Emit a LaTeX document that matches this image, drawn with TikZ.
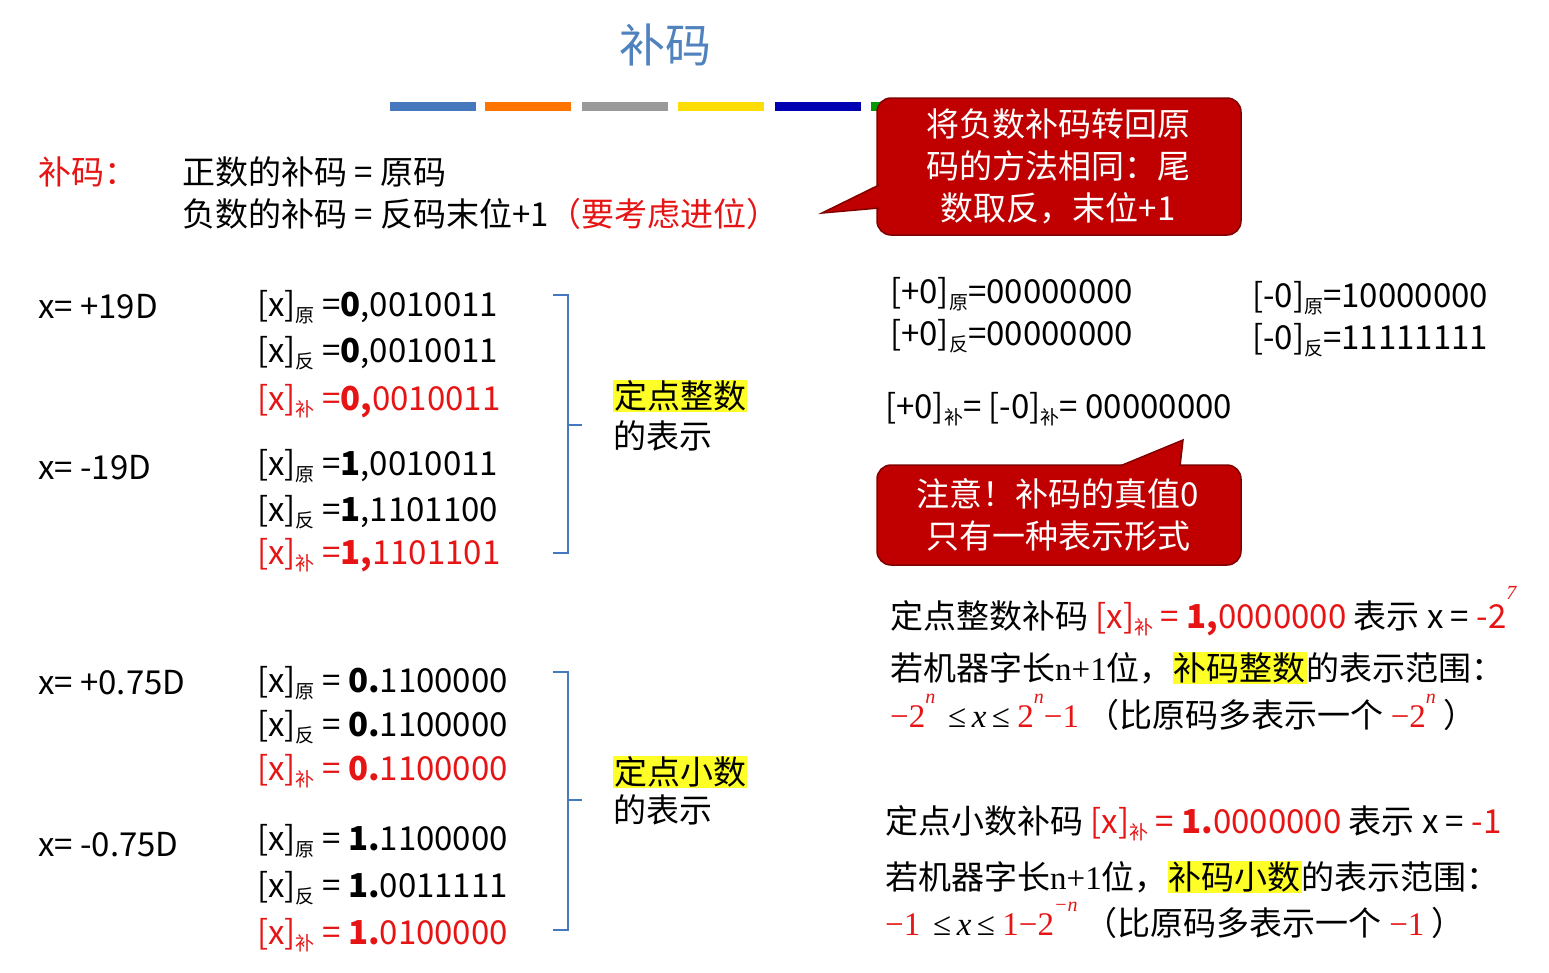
\documentclass[tikz,border=0pt]{standalone}
\usepackage{fontspec}
\setmainfont{Noto Sans CJK SC}
\newfontfamily\ser{Liberation Serif}
\usetikzlibrary{calc}
\definecolor{tblue}{RGB}{80,130,190}
\definecolor{dred}{RGB}{192,0,0}
\definecolor{rtxt}{RGB}{230,20,20}
\definecolor{brc}{RGB}{70,120,190}
\definecolor{hl}{RGB}{255,255,40}
\newcommand{\zsb}[1]{\raisebox{-0.35ex}{\fontsize{19}{19}\selectfont #1}}
\newcommand{\hlt}[1]{\colorbox{hl}{#1}}
\newcommand{\zsup}[1]{\raisebox{1.6ex}{\fontsize{20}{20}\selectfont\ser\itshape #1}}
\tikzset{
 t/.style={anchor=west,inner sep=0pt,font=\fontsize{33}{36}\selectfont},
 r/.style={t,text=rtxt},
 callout/.style={fill=dred,draw=red!50!black,line width=1.5pt,rounded corners=14pt},
 ctext/.style={text=white,font=\fontsize{33}{42}\selectfont,align=center,inner sep=0pt},
 brace/.style={draw=brc,line width=2.5pt},
 bar/.style={line width=9pt},
}
\setlength{\fboxsep}{1pt}
\begin{document}
\begin{tikzpicture}[x=1pt,y=-1pt]
\useasboundingbox (0,0) rectangle (1549,972);
\node[text=tblue,font=\fontsize{46}{50}\selectfont] (title) at (665,45) {补码};
\foreach \a/\b/\c in {390/476/brc,485/571/orange!90!red,582/668/gray!80,678/764/yellow!80!orange,775/861/blue!70!black,871/900/green!60!black}
  \draw[bar,\c] (\a,106) -- (\b,106);
% callout 1
\draw[callout] (877,98) rectangle (1241,235);
\draw[red!50!black,line width=1.5pt,fill=dred] (879,185) -- (822,213) -- (879,208);
\fill[dred] (882,187) -- (826,212) -- (882,206) -- cycle;
\node[ctext] (c1) at (1058,166) {将负数补码转回原\\码的方法相同：尾\\数取反，末位+1};
% header text
\node[r] (bm) at (38,172) {补码：};
\node[t] (p1) at (182,172) {正数的补码 = 原码};
\node[t] (p2) at (182,214) {负数的补码 = 反码末位+1\textcolor{rtxt}{（要考虑进位）}};
% block 1
\node[t] (a0) at (38,307) {x= +19D};
\node[t] (a1) at (257,307) {[x]\zsb{原} =\textbf{0},0010011};
\node[t] (a2) at (257,353) {[x]\zsb{反} =\textbf{0},0010011};
\node[r] (a3) at (257,401) {[x]\zsb{补} =\textbf{0,}0010011};
\node[t] (b0) at (38,468) {x= -19D};
\node[t] (b1) at (257,466) {[x]\zsb{原} =\textbf{1},0010011};
\node[t] (b2) at (257,512) {[x]\zsb{反} =\textbf{1},1101100};
\node[r] (b3) at (257,555) {[x]\zsb{补} =\textbf{1,}1101101};
\draw[brace] (553,295) -- (568,295) -- (568,553) -- (553,553) (568,425) -- (582,425);
\node[t] (l1) at (613,396) {\hlt{定点整数}};
\node[t] (l2) at (613,436) {的表示};
% block 2
\node[t] (c0) at (38,683) {x= +0.75D};
\node[t] (c1a) at (257,683) {[x]\zsb{原} = \textbf{0.}1100000};
\node[t] (c2) at (257,727) {[x]\zsb{反} = \textbf{0.}1100000};
\node[r] (c3) at (257,771) {[x]\zsb{补} = \textbf{0.}1100000};
\node[t] (d0) at (38,845) {x= -0.75D};
\node[t] (d1) at (257,841) {[x]\zsb{原} = \textbf{1.}1100000};
\node[t] (d2) at (257,888) {[x]\zsb{反} = \textbf{1.}0011111};
\node[r] (d3) at (257,935) {[x]\zsb{补} = \textbf{1.}0100000};
\draw[brace] (553,672) -- (568,672) -- (568,930) -- (553,930) (568,800) -- (582,800);
\node[t] (m1) at (613,772) {\hlt{定点小数}};
\node[t] (m2) at (613,810) {的表示};
% right zeros
\node[t] (z1) at (890,294) {[+0]\zsb{原}=00000000};
\node[t] (z2) at (890,336) {[+0]\zsb{反}=00000000};
\node[t] (z3) at (1252,298) {[-0]\zsb{原}=10000000};
\node[t] (z4) at (1252,340) {[-0]\zsb{反}=11111111};
\node[t] (z5) at (885,409) {[+0]\zsb{补}= [-0]\zsb{补}= 00000000};
% callout 2
\draw[callout] (877,465) rectangle (1241,565);
\draw[red!50!black,line width=1.5pt,fill=dred] (1120,466) -- (1183,440) -- (1180,466);
\fill[dred] (1122,468) -- (1181,444) -- (1178,468) -- cycle;
\node[ctext] (n1) at (1058,515) {注意！补码的真值0\\只有一种表示形式};
% ranges
\node[t] (e1) at (890,611) {定点整数补码 \textcolor{rtxt}{[x]\zsb{补} = \textbf{1,}0000000} 表示 x = \textcolor{rtxt}{-2\zsup{7}}};
\node[t] (e2) at (890,668) {若机器字长{\ser n+1}位，\hlt{补码整数}的表示范围：};
\node[t] (e3) at (890,712) {\textcolor{rtxt}{\ser −2\zsup{n}} \,{\ser ≤\,\textit{x}\,≤} \textcolor{rtxt}{\ser 2\zsup{n}−1} （比原码多表示一个 \textcolor{rtxt}{\ser −2\zsup{n}} ）};
\node[t] (f1) at (885,823) {定点小数补码 \textcolor{rtxt}{[x]\zsb{补} = \textbf{1.}0000000} 表示 x = \textcolor{rtxt}{-1}};
\node[t] (f2) at (885,877) {若机器字长{\ser n+1}位，\hlt{补码小数}的表示范围：};
\node[t] (f3) at (885,920) {\textcolor{rtxt}{\ser −1} \,{\ser ≤\,\textit{x}\,≤} \textcolor{rtxt}{\ser 1−2\zsup{−n}} （比原码多表示一个 \textcolor{rtxt}{\ser −1} ）};
\end{tikzpicture}
\end{document}
